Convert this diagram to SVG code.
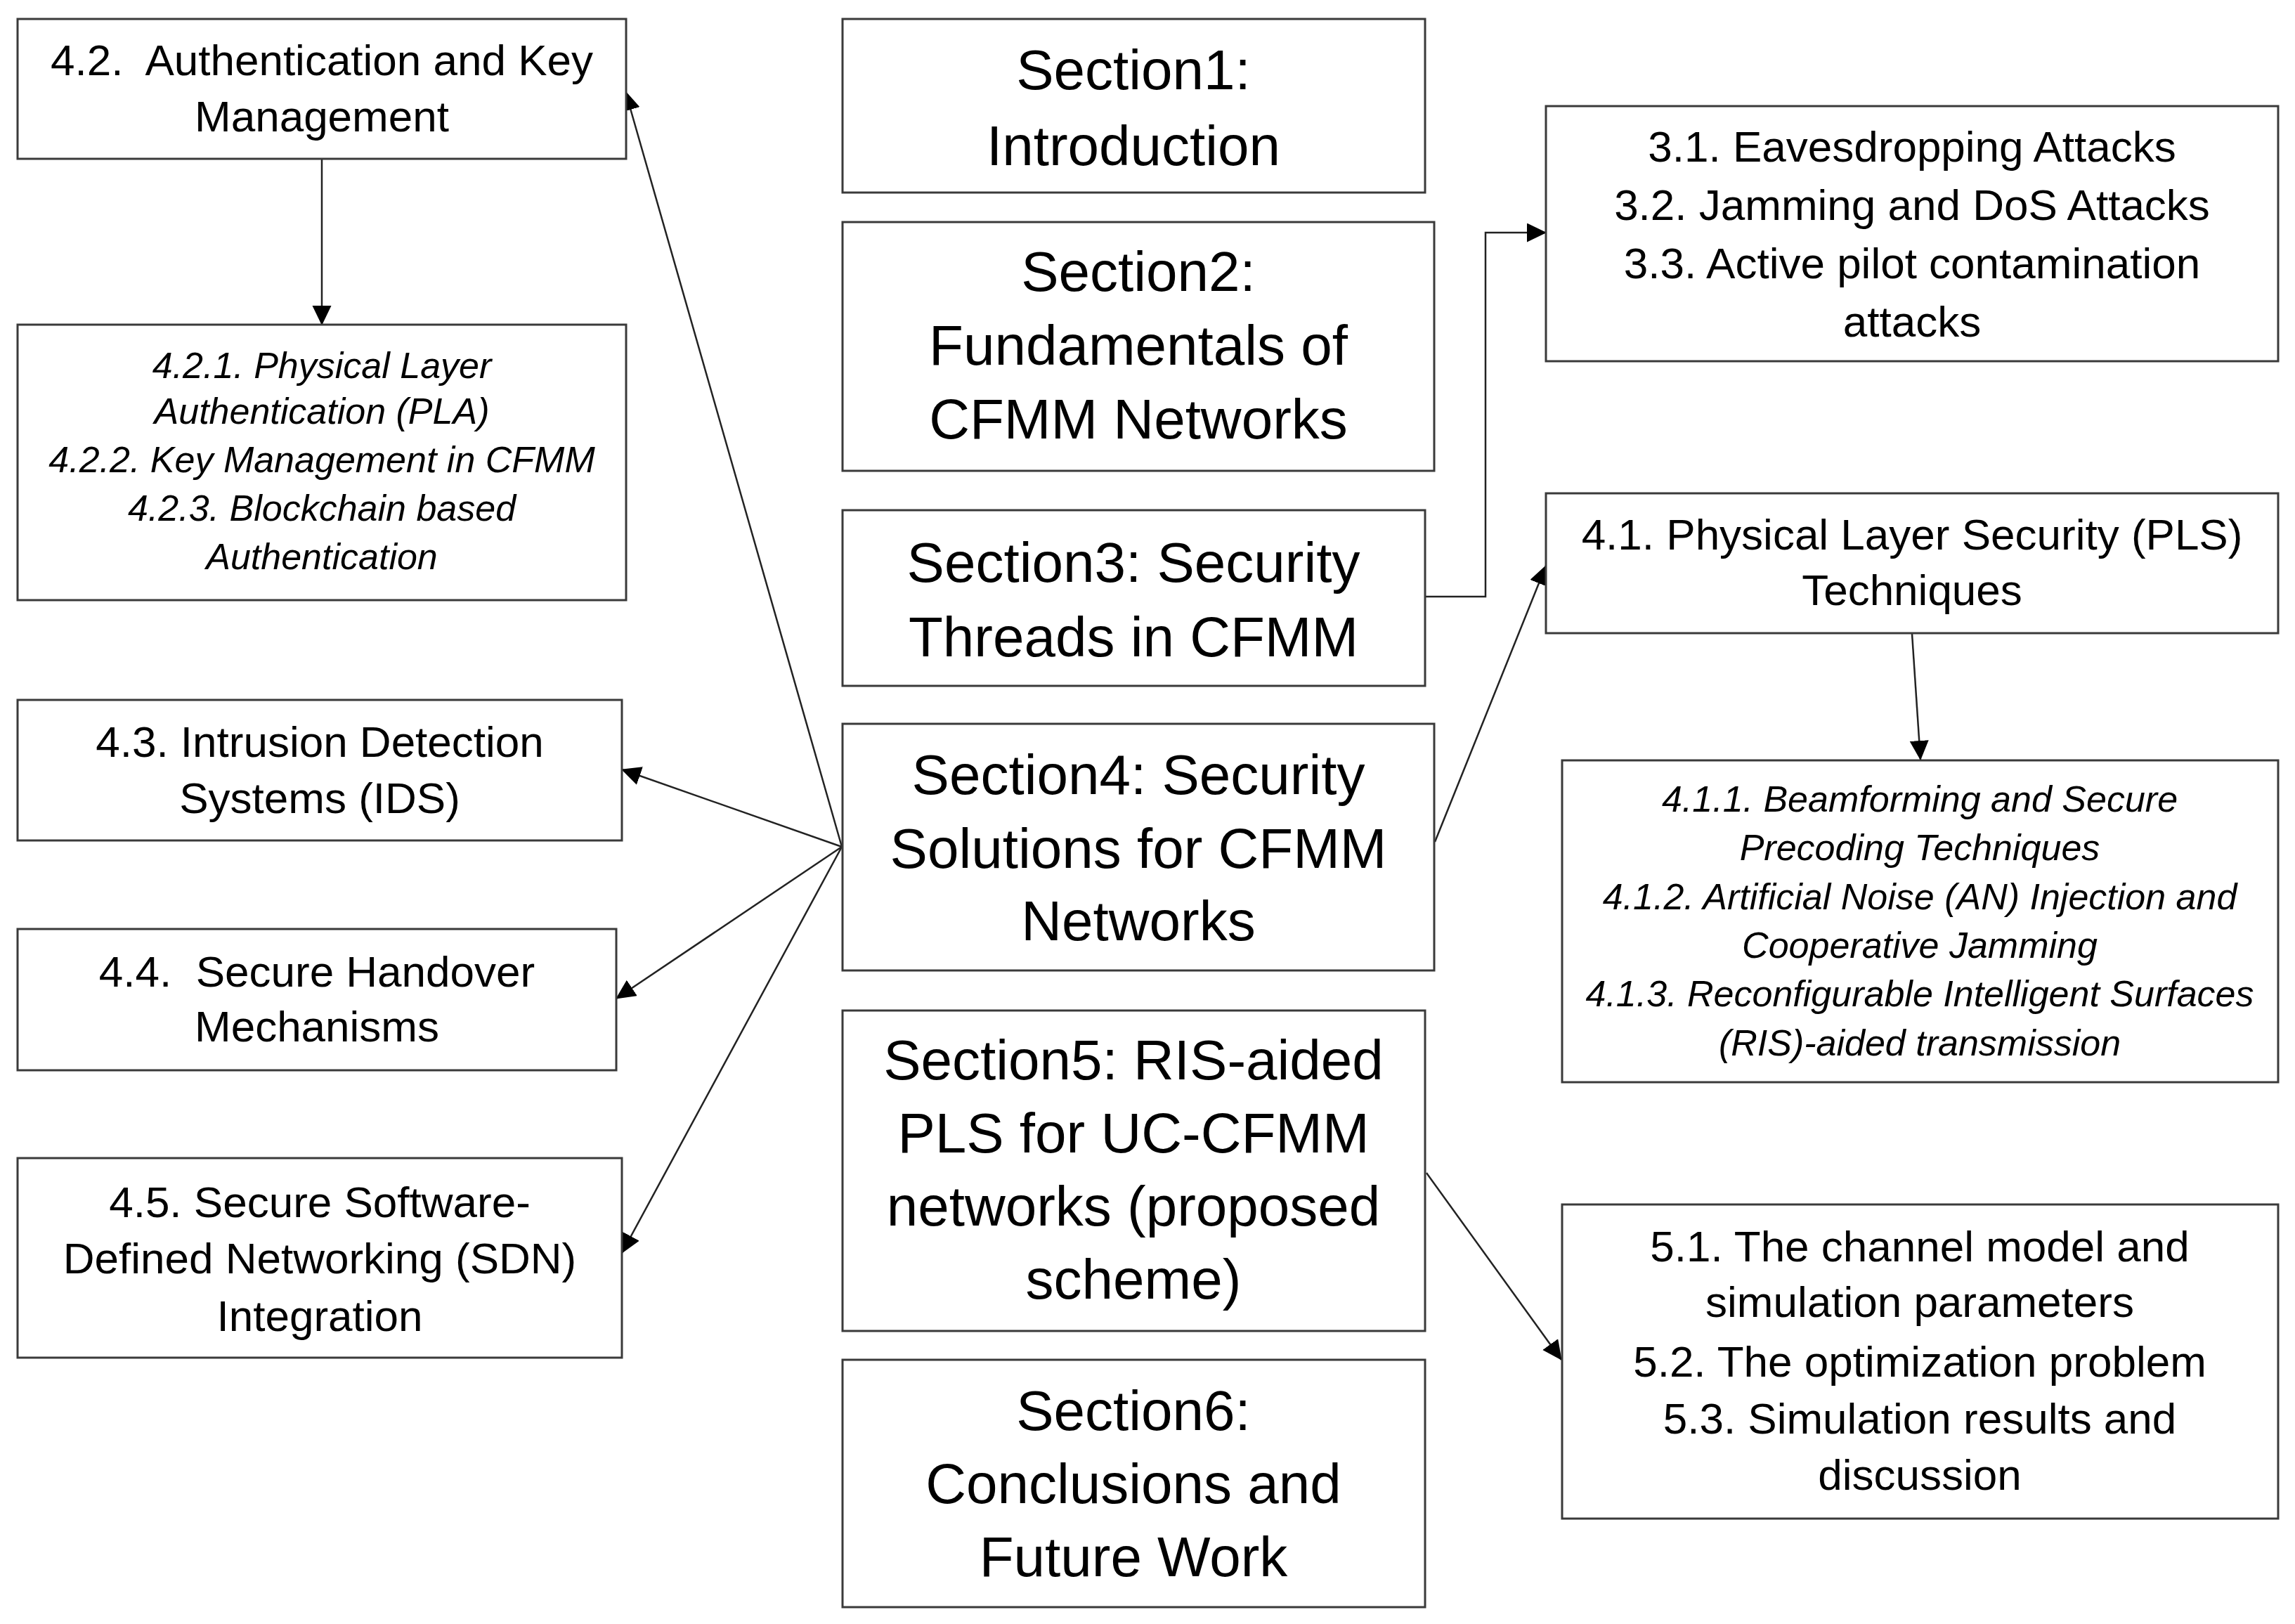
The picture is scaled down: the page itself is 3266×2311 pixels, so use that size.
<svg xmlns="http://www.w3.org/2000/svg" width="3266" height="2311" viewBox="0 0 3266 2311">
<style>
.box{fill:#fff;stroke:#3a3a3a;stroke-width:3}
.t{font-family:"Liberation Sans",Arial,sans-serif;text-anchor:middle;fill:#000}
.big{font-size:80px}
.mid{font-size:62px}
.it{font-size:52px;font-style:italic}
.pre{white-space:pre}
.c{fill:none;stroke:#222;stroke-width:2.5}
</style>
<defs>
<marker id="arr" markerUnits="userSpaceOnUse" markerWidth="28" markerHeight="28" refX="27" refY="13.5" orient="auto">
<path d="M0,0 L28,13.5 L0,27 z" fill="#000"/>
</marker>
</defs>
<rect width="3266" height="2311" fill="#fff"/>
<g id="connectors">
<line class="c" x1="458" y1="226" x2="458" y2="462" marker-end="url(#arr)"/>
<polyline class="c" points="2028,849 2114,849 2114,331 2200,331" marker-end="url(#arr)"/>
<line class="c" x1="2042" y1="1198" x2="2200" y2="805" marker-end="url(#arr)"/>
<line class="c" x1="2721" y1="902" x2="2733" y2="1081" marker-end="url(#arr)"/>
<line class="c" x1="2030" y1="1669" x2="2222" y2="1935" marker-end="url(#arr)"/>
<line class="c" x1="1198" y1="1205" x2="890" y2="130" marker-end="url(#arr)"/>
<line class="c" x1="1198" y1="1205" x2="885" y2="1095" marker-end="url(#arr)"/>
<line class="c" x1="1198" y1="1205" x2="877" y2="1421" marker-end="url(#arr)"/>
<line class="c" x1="1198" y1="1205" x2="885" y2="1783" marker-end="url(#arr)"/>
</g>
<g id="s1">
<rect class="box" x="1199" y="27" width="829" height="247"/>
<text class="t big" x="1613" y="127">Section1:</text>
<text class="t big" x="1613" y="235">Introduction</text>
</g>
<g id="s2">
<rect class="box" x="1199" y="316" width="842" height="354"/>
<text class="t big" x="1620" y="414">Section2:</text>
<text class="t big" x="1620" y="519">Fundamentals of</text>
<text class="t big" x="1620" y="624">CFMM Networks</text>
</g>
<g id="s3">
<rect class="box" x="1199" y="726" width="829" height="250"/>
<text class="t big" x="1613" y="828">Section3: Security</text>
<text class="t big" x="1613" y="934">Threads in CFMM</text>
</g>
<g id="s4">
<rect class="box" x="1199" y="1030" width="842" height="351"/>
<text class="t big" x="1620" y="1130">Section4: Security</text>
<text class="t big" x="1620" y="1235">Solutions for CFMM</text>
<text class="t big" x="1620" y="1338">Networks</text>
</g>
<g id="s5">
<rect class="box" x="1199" y="1438" width="829" height="456"/>
<text class="t big" x="1613" y="1536">Section5: RIS-aided</text>
<text class="t big" x="1613" y="1640">PLS for UC-CFMM</text>
<text class="t big" x="1613" y="1744">networks (proposed</text>
<text class="t big" x="1613" y="1848">scheme)</text>
</g>
<g id="s6">
<rect class="box" x="1199" y="1935" width="829" height="352"/>
<text class="t big" x="1613" y="2035">Section6:</text>
<text class="t big" x="1613" y="2139">Conclusions and</text>
<text class="t big" x="1613" y="2243">Future Work</text>
</g>
<g id="n3x">
<rect class="box" x="2200" y="151" width="1042" height="363"/>
<text class="t mid" x="2721" y="230">3.1. Eavesdropping Attacks</text>
<text class="t mid" x="2721" y="313">3.2. Jamming and DoS Attacks</text>
<text class="t mid" x="2721" y="396">3.3. Active pilot contamination</text>
<text class="t mid" x="2721" y="479">attacks</text>
</g>
<g id="n41">
<rect class="box" x="2200" y="702" width="1042" height="199"/>
<text class="t mid" x="2721" y="782">4.1. Physical Layer Security (PLS)</text>
<text class="t mid" x="2721" y="861">Techniques</text>
</g>
<g id="n41x">
<rect class="box" x="2223" y="1082" width="1019" height="458"/>
<text class="t it" x="2732" y="1155">4.1.1. Beamforming and Secure</text>
<text class="t it" x="2732" y="1224">Precoding Techniques</text>
<text class="t it" x="2732" y="1294">4.1.2. Artificial Noise (AN) Injection and</text>
<text class="t it" x="2732" y="1363">Cooperative Jamming</text>
<text class="t it" x="2732" y="1432">4.1.3. Reconfigurable Intelligent Surfaces</text>
<text class="t it" x="2732" y="1502">(RIS)-aided transmission</text>
</g>
<g id="n5x">
<rect class="box" x="2223" y="1714" width="1019" height="447"/>
<text class="t mid" x="2732" y="1795">5.1. The channel model and</text>
<text class="t mid" x="2732" y="1874">simulation parameters</text>
<text class="t mid" x="2732" y="1959">5.2. The optimization problem</text>
<text class="t mid" x="2732" y="2040">5.3. Simulation results and</text>
<text class="t mid" x="2732" y="2120">discussion</text>
</g>
<g id="n42">
<rect class="box" x="25" y="27" width="866" height="199"/>
<text class="t mid pre" x="458" y="107">4.2.  Authentication and Key</text>
<text class="t mid" x="458" y="187">Management</text>
</g>
<g id="n42x">
<rect class="box" x="25" y="462" width="866" height="392"/>
<text class="t it" x="458" y="538">4.2.1. Physical Layer</text>
<text class="t it" x="458" y="603">Authentication (PLA)</text>
<text class="t it" x="458" y="672">4.2.2. Key Management in CFMM</text>
<text class="t it" x="458" y="741">4.2.3. Blockchain based</text>
<text class="t it" x="458" y="810">Authentication</text>
</g>
<g id="n43">
<rect class="box" x="25" y="996" width="860" height="200"/>
<text class="t mid" x="455" y="1077">4.3. Intrusion Detection</text>
<text class="t mid" x="455" y="1157">Systems (IDS)</text>
</g>
<g id="n44">
<rect class="box" x="25" y="1322" width="852" height="201"/>
<text class="t mid pre" x="451" y="1404">4.4.  Secure Handover</text>
<text class="t mid" x="451" y="1482">Mechanisms</text>
</g>
<g id="n45">
<rect class="box" x="25" y="1648" width="860" height="284"/>
<text class="t mid" x="455" y="1732">4.5. Secure Software-</text>
<text class="t mid" x="455" y="1812">Defined Networking (SDN)</text>
<text class="t mid" x="455" y="1894">Integration</text>
</g>
</svg>
